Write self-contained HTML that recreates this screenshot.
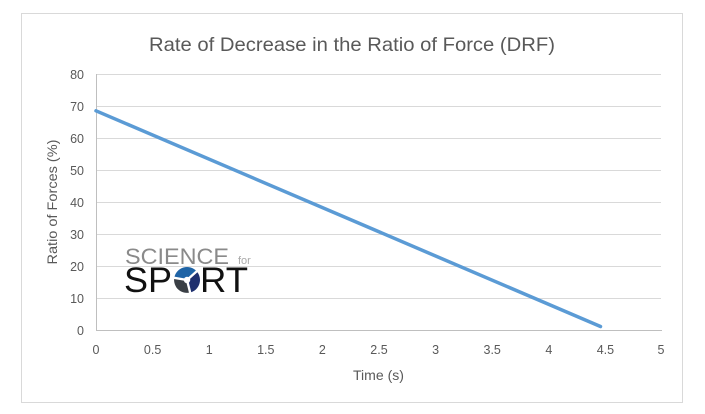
<!DOCTYPE html>
<html>
<head>
<meta charset="utf-8">
<style>
  html, body { margin: 0; padding: 0; background: #ffffff; }
  svg { display: block; }
  text { font-family: "Liberation Sans", "DejaVu Sans", sans-serif; }
</style>
</head>
<body>
<svg width="705" height="414" viewBox="0 0 705 414" xmlns="http://www.w3.org/2000/svg">
  <rect x="0" y="0" width="705" height="414" fill="#ffffff"/>
  <!-- chart border -->
  <rect x="21.5" y="13.5" width="661" height="389" fill="#ffffff" stroke="#d9d9d9" stroke-width="1"/>

  <!-- title -->
  <text x="352" y="51" text-anchor="middle" font-size="19.5" fill="#595959" textLength="406" lengthAdjust="spacingAndGlyphs">Rate of Decrease in the Ratio of Force (DRF)</text>

  <!-- gridlines -->
  <g stroke="#d9d9d9" stroke-width="1">
    <line x1="96" y1="74.5" x2="661" y2="74.5"/>
    <line x1="96" y1="106.5" x2="661" y2="106.5"/>
    <line x1="96" y1="138.5" x2="661" y2="138.5"/>
    <line x1="96" y1="170.5" x2="661" y2="170.5"/>
    <line x1="96" y1="202.5" x2="661" y2="202.5"/>
    <line x1="96" y1="234.5" x2="661" y2="234.5"/>
    <line x1="96" y1="266.5" x2="661" y2="266.5"/>
    <line x1="96" y1="298.5" x2="661" y2="298.5"/>
  </g>
  <!-- axes -->
  <line x1="96.5" y1="74" x2="96.5" y2="330" stroke="#bfbfbf" stroke-width="1"/>
  <line x1="96" y1="330.5" x2="662" y2="330.5" stroke="#bfbfbf" stroke-width="1"/>

  <!-- y tick labels -->
  <g font-size="12.5" fill="#595959" text-anchor="end">
    <text x="84" y="79">80</text>
    <text x="84" y="111">70</text>
    <text x="84" y="143">60</text>
    <text x="84" y="175">50</text>
    <text x="84" y="207">40</text>
    <text x="84" y="239">30</text>
    <text x="84" y="271">20</text>
    <text x="84" y="303">10</text>
    <text x="84" y="335">0</text>
  </g>

  <!-- x tick labels -->
  <g font-size="12.5" fill="#595959" text-anchor="middle">
    <text x="96" y="354">0</text>
    <text x="152.6" y="354">0.5</text>
    <text x="209.2" y="354">1</text>
    <text x="265.8" y="354">1.5</text>
    <text x="322.4" y="354">2</text>
    <text x="379" y="354">2.5</text>
    <text x="435.6" y="354">3</text>
    <text x="492.2" y="354">3.5</text>
    <text x="548.8" y="354">4</text>
    <text x="605.4" y="354">4.5</text>
    <text x="661" y="354">5</text>
  </g>

  <!-- axis titles -->
  <text x="378.5" y="380" text-anchor="middle" font-size="13.5" fill="#595959" textLength="51" lengthAdjust="spacingAndGlyphs">Time (s)</text>
  <text transform="translate(57,202) rotate(-90)" x="0" y="0" text-anchor="middle" font-size="13.5" fill="#595959" textLength="125" lengthAdjust="spacingAndGlyphs">Ratio of Forces (%)</text>

  <!-- logo -->
  <g>
    <text x="125" y="264" font-size="22" fill="#8a8a8a" textLength="104" lengthAdjust="spacingAndGlyphs">SCIENCE</text>
    <text x="238" y="264" font-size="11" fill="#aaaaaa">for</text>
    <text x="124" y="292" font-size="35" fill="#111111" textLength="48" lengthAdjust="spacingAndGlyphs">SP</text>
    <text x="200" y="292" font-size="35" fill="#111111" textLength="48" lengthAdjust="spacingAndGlyphs">RT</text>
    <!-- O emblem -->
    <g transform="translate(187,280) scale(1.08)">
      <path d="M0,0 L-11.8,-2 A12,12 0 0 1 9,-8 Z" fill="#1f64a6"/>
      <path d="M0,0 L9,-8 A12,12 0 0 1 3,11.6 Z" fill="#1e2f6e"/>
      <path d="M0,0 L3,11.6 A12,12 0 0 1 -11.8,-2 Z" fill="#3a3f45"/>
      <g stroke="#ffffff" stroke-width="2.2" stroke-linecap="round">
        <line x1="0" y1="0" x2="-12" y2="-2"/>
        <line x1="0" y1="0" x2="9.2" y2="-8.2"/>
        <line x1="0" y1="0" x2="3" y2="12"/>
      </g>
      <circle cx="0" cy="0" r="3" fill="#ffffff"/>
    </g>
  </g>

  <!-- data line -->
  <line x1="96" y1="110.8" x2="600.5" y2="326.5" stroke="#5b9bd5" stroke-width="3.5" stroke-linecap="round"/>
</svg>
</body>
</html>
